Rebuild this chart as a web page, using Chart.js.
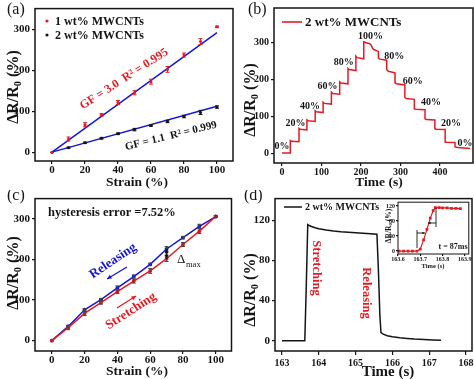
<!DOCTYPE html>
<html><head><meta charset="utf-8">
<script src="https://cdn.jsdelivr.net/npm/chart.js@4.4.1/dist/chart.umd.min.js"></script>
<style>
html,body{margin:0;padding:0;background:#fff;}
body{width:474px;height:379px;position:relative;overflow:hidden;}
canvas{position:absolute;}
</style></head><body>
<canvas id="cA"></canvas><canvas id="cB"></canvas><canvas id="cC"></canvas><canvas id="cD"></canvas><canvas id="cI"></canvas>
<script>
// ---------- DATA ----------
// (a) response vs strain
const strainA = [0,10,20,30,40,50,60,70,80,90,100];
const resp1wt = [0,32,67,91,121,145,172,202,237,270,306];
const err1wt  = [0,5,5,3,5,5,6,7,5,7,2];
const resp2wt = [0,11,23,34,45,55,65,75,87,97,110];
const err2wt  = [0,1.5,1.5,2,2,3,2,3,3,5,3];
const fitStrain = [0,100];
const fit1wt = [0,292];
const fit2wt = [0,112];
const ticksAX = [0,20,40,60,80,100];
const ticksAY = [0,100,200,300];

// (b) step loading
const timeB = [0,21, 21,24,43, 43,46,63, 63,66,84, 84,87,104, 104,107,125, 125,128,146, 146,149,167, 167,170,187, 187,190,207,
  207,212,222,226,229,232,244, 244,248,265, 265,269,286, 286,290,311, 311,315,335, 335,339,362, 362,366,387, 387,391,413, 413,417,438, 438,445,476];
const respB = [0,0, 34,32,31, 67,65,63, 90,88,86, 115,112,110, 138,135,133, 165,162,160, 193,190,188, 230,227,224, 263,259,256,
  302,300,297,293,285,281,276, 258,255,252, 227,222,218, 191,188,185, 151,148,146, 120,119,118, 93,91,90, 66,65,64, 30,29.5,29, 17,15,12.5];
const stepLabels = ['0%','20%','40%','60%','80%','100%','80%','60%','40%','20%','0%'];
const stepLabelTime = [0,34,71,115,156,224,284,331,377,428,463];
const stepLabelResp = [17,80,126,182,245,318,262,195,137,80,25];
const ticksBX = [0,100,200,300,400];
const ticksBY = [0,100,200,300];

// (c) hysteresis
const strainC = [0,10,20,30,40,50,60,70,80,90,100];
const stretchC = [0,32,67,94,121,147,172,202,237,270,306];
const stretchErr = [0,5,5,4,5,5,6,7,5,6,2];
const releaseC = [0,35,76,101,130,158,188,226,254,282,306];
const releaseErr = [0,3,3,3,5,4,3,6,3,5,2];
const ticksCX = [0,20,40,60,80,100];
const ticksCY = [0,100,200,300];

// (d) response time
const timeD = [163.0,163.62,163.66,163.70,163.74,163.8,163.9,164.0,164.2,164.4,164.6,164.8,165.0,165.2,165.4,165.58,165.62,165.66,165.69,165.75,165.86,166.0,166.2,166.4,166.6,166.85,167.1,167.32];
const respD = [0,0,55,116,115,114,112.8,111.8,110.6,109.6,108.8,108.2,107.7,107.2,106.8,106.3,70,25,8,6.5,5,4,3,2.3,1.7,1.2,0.8,0.5];
const ticksDX = [163,164,165,166,167,168];
const ticksDY = [0,40,80,120];
// (d) inset
const timeIn = [163.605,163.625,163.645,163.665,163.685,163.70,163.715,163.73,163.745,163.758,163.768,163.785,163.80,163.82,163.84,163.86,163.88];
const respIn = [0,0,0,0,0,5,30,58,88,108,116,116,115,115,114,114,113];
const ticksIX = [163.6,163.7,163.8,163.9];
const ticksIY = [0,40,80,120];

// ---------- STYLE / HELPERS ----------
const RED='#e41b23', BLUE='#1616d2', INK='#151515';
const SERIF="'Liberation Serif','Times New Roman',Times,serif";
Chart.defaults.font.family=SERIF;
Chart.defaults.color=INK;

const pts=(xs,ys)=>xs.map((x,i)=>({x,y:ys[i]}));

function label(ctx,s,x,y,o={}){
  ctx.save(); ctx.translate(x,y); ctx.rotate((o.rot||0)*Math.PI/180);
  ctx.font=`${o.weight||'bold'} ${o.size||12}px ${SERIF}`;
  ctx.fillStyle=o.color||INK; ctx.textAlign=o.align||'center'; ctx.textBaseline='middle';
  ctx.fillText(s,0,0); ctx.restore();
}
function yTitle(ctx,x,y,size){
  ctx.save(); ctx.translate(x,y); ctx.rotate(-Math.PI/2);
  const f=`bold ${size}px ${SERIF}`, fs=`bold ${size*0.65}px ${SERIF}`;
  ctx.font=f; const w1=ctx.measureText('ΔR/R').width, w3=ctx.measureText(' (%)').width;
  ctx.font=fs; const w2=ctx.measureText('0').width;
  let cx=-(w1+w2+w3)/2; const by=size*0.35;
  ctx.fillStyle=INK; ctx.textAlign='left'; ctx.textBaseline='alphabetic';
  ctx.font=f; ctx.fillText('ΔR/R',cx,by); cx+=w1;
  ctx.font=fs; ctx.fillText('0',cx,by+size*0.22); cx+=w2;
  ctx.font=f; ctx.fillText(' (%)',cx,by);
  ctx.restore();
}
function arrow(ctx,x1,y1,x2,y2,color,w=1.3,h=5,both=false){
  ctx.save(); ctx.strokeStyle=color; ctx.fillStyle=color; ctx.lineWidth=w;
  ctx.beginPath(); ctx.moveTo(x1,y1); ctx.lineTo(x2,y2); ctx.stroke();
  const head=(xa,ya,xb,yb)=>{const a=Math.atan2(yb-ya,xb-xa);ctx.beginPath();ctx.moveTo(xb,yb);
    ctx.lineTo(xb-h*Math.cos(a-0.45),yb-h*Math.sin(a-0.45));ctx.lineTo(xb-h*Math.cos(a+0.45),yb-h*Math.sin(a+0.45));ctx.closePath();ctx.fill();};
  head(x1,y1,x2,y2); if(both) head(x2,y2,x1,y1);
  ctx.restore();
}
function seg(ctx,x1,y1,x2,y2,color,w){ctx.save();ctx.strokeStyle=color;ctx.lineWidth=w;ctx.beginPath();ctx.moveTo(x1,y1);ctx.lineTo(x2,y2);ctx.stroke();ctx.restore();}
function dot(ctx,x,y,r,c){ctx.save();ctx.fillStyle=c;ctx.beginPath();ctx.arc(x,y,r,0,Math.PI*2);ctx.fill();ctx.restore();}

const framePlugin={id:'frame',afterDraw(chart){const {ctx,chartArea:a}=chart;ctx.save();ctx.strokeStyle=INK;ctx.lineWidth=chart.canvas.id==='cI'?1:1.5;ctx.strokeRect(a.left,a.top,a.width,a.height);ctx.restore();}};
const errorBarPlugin={id:'errbars',afterDatasetsDraw(chart){
  const ctx=chart.ctx, xs=chart.scales.x, ys=chart.scales.y;
  chart.data.datasets.forEach(ds=>{ if(!ds.errors) return;
    ctx.save(); ctx.strokeStyle=ds.errColor; ctx.lineWidth=1;
    ds.data.forEach((p,j)=>{const e=ds.errors[j]; if(!e) return;
      const px=xs.getPixelForValue(p.x), y1=ys.getPixelForValue(p.y-e), y2=ys.getPixelForValue(p.y+e);
      ctx.beginPath(); ctx.moveTo(px,y1); ctx.lineTo(px,y2);
      ctx.moveTo(px-2,y1); ctx.lineTo(px+2,y1); ctx.moveTo(px-2,y2); ctx.lineTo(px+2,y2); ctx.stroke();});
    ctx.restore();});
}};

function axis(range,ticks,size,tl,pad,fmt){
  return {type:'linear',min:range[0],max:range[1],
    afterBuildTicks:s=>{s.ticks=ticks.map(v=>({value:v}));},
    grid:{display:true,drawOnChartArea:false,drawTicks:true,tickLength:tl,color:INK,lineWidth:1.2},
    border:{display:false},
    ticks:{font:{family:SERIF,size,weight:'bold'},color:INK,padding:pad,autoSkip:false,maxRotation:0,minRotation:0,callback:fmt||(v=>String(v))}};
}

function panel(id,box,frame,yW,xH,xAxis,yAxis,datasets,deco){
  const cv=document.getElementById(id);
  cv.width=box.w; cv.height=box.h;
  Object.assign(cv.style,{left:box.x+'px',top:box.y+'px',width:box.w+'px',height:box.h+'px'});
  xAxis.afterFit=s=>{s.height=xH;};
  yAxis.afterFit=s=>{s.width=yW;};
  return new Chart(cv,{type:'scatter',data:{datasets},
    options:{responsive:false,animation:false,devicePixelRatio:1,events:[],
      layout:{padding:{left:frame.l-box.x-yW,top:frame.t-box.y,right:box.x+box.w-frame.r,bottom:box.y+box.h-frame.b-xH}},
      plugins:{legend:{display:false},tooltip:{enabled:false}},
      scales:{x:xAxis,y:yAxis}},
    plugins:[framePlugin,errorBarPlugin,{id:'deco',afterDraw(chart){
      const ctx=chart.ctx; ctx.save(); ctx.translate(-box.x,-box.y);
      const P=(x,y)=>({x:chart.scales.x.getPixelForValue(x)+box.x,y:chart.scales.y.getPixelForValue(y)+box.y});
      deco(ctx,P); ctx.restore();}}]});
}

// ---------- (a) ----------
panel('cA',{x:0,y:0,w:237,h:190},{l:35,t:6,r:233,b:161},30,18,
  axis([-10.3,109.7],ticksAX,11,3,0),axis([-21.6,350.4],ticksAY,11,3,2),
  [
    {data:pts(strainA,resp1wt),errors:err1wt,errColor:RED,backgroundColor:RED,borderColor:RED,pointRadius:1.5,pointBorderWidth:0},
    {data:pts(strainA,resp2wt),errors:err2wt,errColor:INK,backgroundColor:INK,borderColor:INK,pointRadius:1.5,pointBorderWidth:0},
    {data:pts(fitStrain,fit1wt),showLine:true,borderColor:BLUE,borderWidth:1.5,pointRadius:0},
    {data:pts(fitStrain,fit2wt),showLine:true,borderColor:BLUE,borderWidth:1.5,pointRadius:0}
  ],
  (ctx,P)=>{
    label(ctx,'(a)',7,10,{size:16,weight:'normal',align:'left'});
    dot(ctx,47,21,1.6,RED); label(ctx,'1 wt% MWCNTs',55,21.5,{size:12,align:'left'});
    dot(ctx,47,35,1.6,INK); label(ctx,'2 wt% MWCNTs',55,35.5,{size:12,align:'left'});
    label(ctx,'GF = 3.0  R² = 0.995',124,79,{size:12,color:RED,rot:-33});
    label(ctx,'GF = 1.1  R² = 0.999',171,136,{size:11,rot:-14});
    label(ctx,'Strain (%)',137,183,{size:13.5});
    yTitle(ctx,12,87,16);
  });

// ---------- (b) ----------
panel('cB',{x:237,y:0,w:247,h:190},{l:274,t:6,r:473,b:163},28,18,
  axis([-20.3,483.5],ticksBX,10,3,0),axis([-26.8,393.8],ticksBY,10,3,2),
  [{data:pts(timeB,respB),showLine:true,borderColor:RED,borderWidth:1.5,pointRadius:0}],
  (ctx,P)=>{
    label(ctx,'(b)',248,10,{size:16,weight:'normal',align:'left'});
    seg(ctx,282,22,302,22,RED,1.6); label(ctx,'2 wt% MWCNTs',305,22.5,{size:13,align:'left'});
    stepLabels.forEach((s,i)=>{const p=P(stepLabelTime[i],stepLabelResp[i]); label(ctx,s,p.x,p.y,{size:10});});
    label(ctx,'Time (s)',379,183,{size:13.5});
    yTitle(ctx,249,100,16);
  });

// ---------- (c) ----------
panel('cC',{x:0,y:190,w:237,h:189},{l:35,t:194,r:234,b:351},30,18,
  axis([-10.24,109.6],ticksCX,11,3,0),axis([-25.6,350.3],ticksCY,11,3,2),
  [
    {data:pts(strainC,stretchC),errors:stretchErr,errColor:'#444',showLine:true,borderColor:RED,backgroundColor:RED,borderWidth:1.5,pointRadius:1.2},
    {data:pts(strainC,releaseC),errors:releaseErr,errColor:'#444',showLine:true,borderColor:BLUE,backgroundColor:BLUE,borderWidth:1.5,pointRadius:1.2}
  ],
  (ctx,P)=>{
    label(ctx,'(c)',7,196,{size:16,weight:'normal',align:'left'});
    label(ctx,'hysteresis error =7.52%',48,212.5,{size:12.5,align:'left'});
    label(ctx,'Releasing',113,261,{size:13,color:BLUE,rot:-34});
    arrow(ctx,127,267,107,279,BLUE,1.3,5);
    label(ctx,'Stretching',131,311,{size:13,color:RED,rot:-33});
    arrow(ctx,117,308,136,296,RED,1.3,5);
    const a=P(strainC[7],stretchC[7]), b=P(strainC[7],releaseC[7]);
    arrow(ctx,a.x,a.y,b.x,b.y,INK,1.8,4.5,true);
    label(ctx,'Δ',177,260,{size:13,weight:'normal',align:'left'});
    label(ctx,'max',186,265,{size:8.5,weight:'normal',align:'left'});
    label(ctx,'Strain (%)',137,372,{size:13.5});
    yTitle(ctx,12,273,16);
  });

// ---------- (d) ----------
panel('cD',{x:237,y:190,w:247,h:189},{l:275,t:193,r:472,b:351},28,20,
  axis([162.81,168.163],ticksDX,10,4,2),axis([-10.3,141.9],ticksDY,11,3,2),
  [{data:pts(timeD,respD),showLine:true,borderColor:INK,borderWidth:1.5,pointRadius:0}],
  (ctx,P)=>{
    label(ctx,'(d)',244,196,{size:16,weight:'normal',align:'left'});
    seg(ctx,284,207,302,207,INK,1.5); label(ctx,'2 wt% MWCNTs',305,207.5,{size:10,align:'left'});
    label(ctx,'Stretching',316,268,{size:12.5,color:RED,rot:90});
    label(ctx,'Releasing',366,293,{size:12.5,color:RED,rot:90});
    label(ctx,'Time (s)',388,372,{size:15});
    yTitle(ctx,249,290,16);
  });

// ---------- (d) inset ----------
panel('cI',{x:380,y:197,w:94,h:75},{l:398,t:201,r:469,b:254},12,9,
  axis([163.6,163.918],ticksIX,6,2,0,v=>v.toFixed(1)),axis([-7.8,130.4],ticksIY,6,2,1),
  [{data:pts(timeIn,respIn),showLine:true,borderColor:RED,backgroundColor:RED,borderWidth:1.2,pointRadius:1.1,pointStyle:'rect'}],
  (ctx,P)=>{
    seg(ctx,417,230,417,248,INK,0.9); arrow(ctx,417,233,425,233,INK,0.9,3);
    seg(ctx,436,208,436,227,INK,0.9); arrow(ctx,436,223,428,223,INK,0.9,3);
    label(ctx,'t = 87ms',453,247,{size:8});
    label(ctx,'Time (s)',433,266,{size:6.5});
    yTitle(ctx,388,226,7.5);
  });
</script></body></html>
